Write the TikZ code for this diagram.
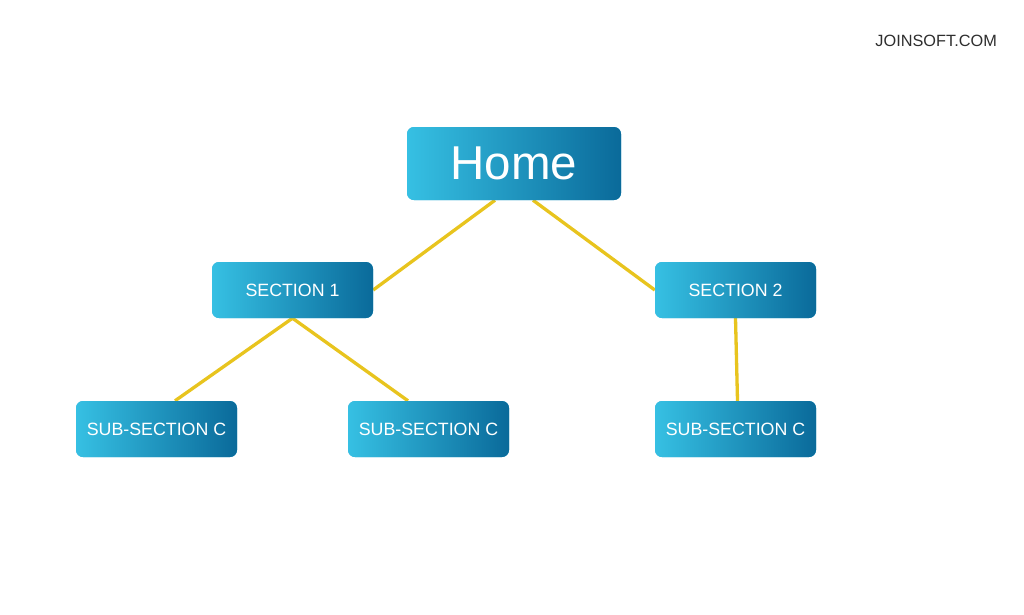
\documentclass[tikz,border=0pt]{standalone}
\usepackage{fontspec}
\setmainfont{Liberation Sans}
\usetikzlibrary{backgrounds}
\definecolor{boxL}{HTML}{36C0E3}
\definecolor{boxM}{HTML}{29ACD8}
\definecolor{boxR}{HTML}{0A6A9A}
\definecolor{linkY}{HTML}{E8C41E}
\definecolor{logoG}{HTML}{2E2E2E}
\tikzset{
  box/.style={shape=rectangle, rounded corners=7pt, fill=boxM, left color=boxL, middle color=boxM, right color=boxR,
    text=white, align=center, inner sep=0pt},
  homebox/.style={box, minimum width=214pt, minimum height=73pt, font=\fontsize{47.5}{52}\selectfont},
  secbox/.style={box, minimum width=161pt, minimum height=56pt, font=\fontsize{17.8}{20}\selectfont},
  subbox/.style={box, minimum width=161pt, minimum height=56pt, font=\fontsize{17.8}{20}\selectfont},
  link/.style={draw=linkY, line width=3.3pt},
}
\begin{document}
\begin{tikzpicture}[x=1pt,y=-1pt]
\useasboundingbox (0,0) rectangle (1024,614);
\node[font=\fontsize{16.3}{19}\selectfont, text=logoG, anchor=east, inner sep=0pt] (logo) at (997,41) {JOINSOFT.COM};
\node[homebox] (home) at (514,163.5) {Home};
\node[secbox] (s1) at (292.5,290) {SECTION 1};
\node[secbox] (s2) at (735.5,290) {SECTION 2};
\node[subbox] (c1) at (156.5,429) {SUB-SECTION C};
\node[subbox] (c2) at (428.5,429) {SUB-SECTION C};
\node[subbox] (c3) at (735.5,429) {SUB-SECTION C};
\begin{pgfonlayer}{background}
\fill[white] (0,0) rectangle (1024,614);
\draw[link] ([xshift=-19pt]home.south) -- (s1.east);
\draw[link] ([xshift=19pt]home.south) -- (s2.west);
\draw[link] (s1.south) -- ([xshift=18.5pt]c1.north);
\draw[link] (s1.south) -- ([xshift=-20.5pt]c2.north);
\draw[link] (s2.south) -- ([xshift=2pt]c3.north);
\end{pgfonlayer}
\end{tikzpicture}
\end{document}
